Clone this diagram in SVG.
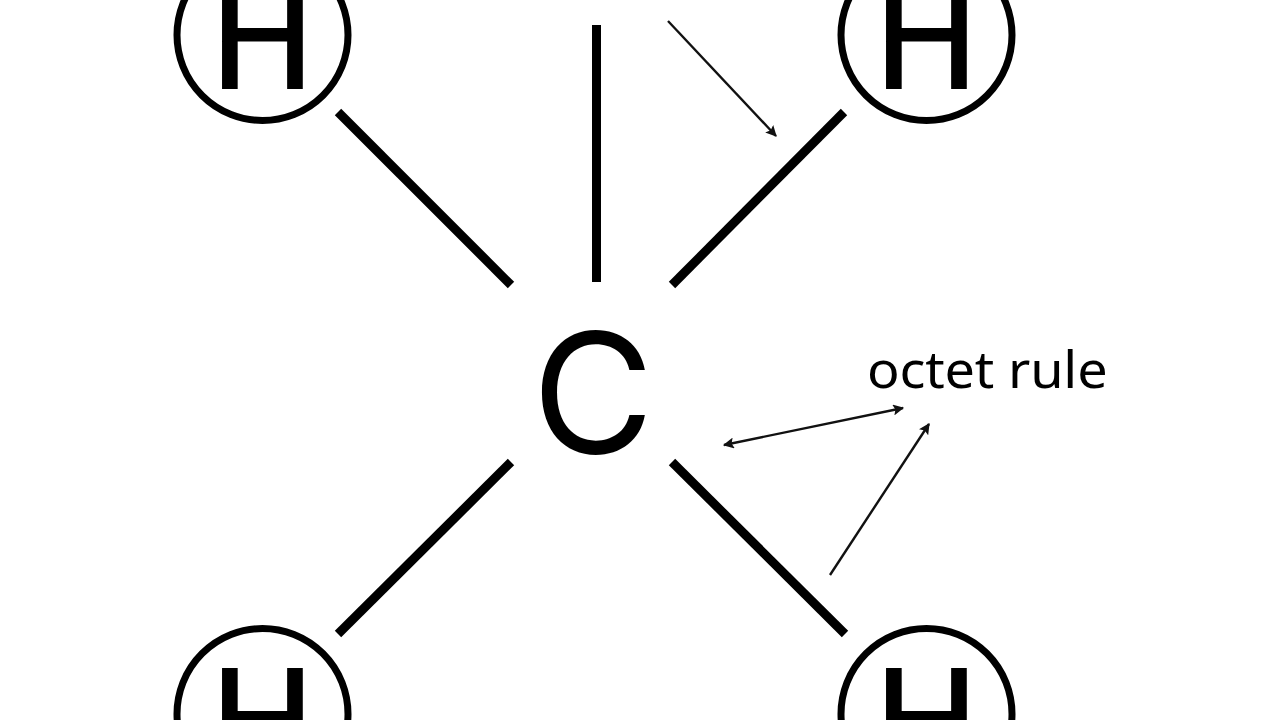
<svg xmlns="http://www.w3.org/2000/svg" width="1280" height="720" viewBox="0 0 1280 720">
<style>
.bond{stroke:#000;stroke-width:9;fill:none}
.atom{stroke:#000;stroke-width:7;fill:#fff}
.h{font-family:"Noto Sans",sans-serif;font-size:145px;font-weight:500;fill:#000;text-anchor:middle}
.thin{stroke:#111;stroke-width:2.4;fill:none}
</style>
<defs>
<marker id="a" viewBox="0 0 10 10" refX="9" refY="5" markerWidth="4.600" markerHeight="4.600" orient="auto-start-reverse"><path d="M0,0L10,5L0,10L2,5Z" fill="#111"/></marker>
</defs>
<rect width="1280" height="720" fill="#fff"/>
<g id="connectors">
<line class="bond" x1="338" y1="112" x2="511" y2="285"/>
<line class="bond" x1="596.500" y1="25" x2="596.500" y2="282"/>
<line class="bond" x1="844" y1="112" x2="672" y2="285"/>
<line class="bond" x1="511" y1="462" x2="338" y2="634"/>
<line class="bond" x1="672" y1="462" x2="845" y2="634"/>
<line class="thin" x1="668" y1="21" x2="776" y2="136" marker-end="url(#a)"/>
<line class="thin" x1="724" y1="445" x2="903" y2="408" marker-start="url(#a)" marker-end="url(#a)"/>
<line class="thin" x1="830" y1="575" x2="929" y2="424" marker-end="url(#a)"/>
</g>
<g id="h1"><circle class="atom" cx="262.500" cy="35" r="85.500"/><text class="h" x="262.500" y="89">H</text></g>
<g id="h2"><circle class="atom" cx="926.500" cy="35" r="85.500"/><text class="h" x="926.500" y="89">H</text></g>
<g id="h3"><circle class="atom" cx="262.500" cy="714" r="85.500"/><text class="h" x="262.500" y="772">H</text></g>
<g id="h4"><circle class="atom" cx="926.500" cy="714" r="85.500"/><text class="h" x="926.500" y="772">H</text></g>
<g id="c"><text x="593" y="453" font-family="Inter,Noto Sans,sans-serif" font-size="167" text-anchor="middle" fill="#000">C</text></g>
<g id="label"><text transform="translate(867 388) scale(1.06 1)" font-family="Noto Sans,sans-serif" font-size="51" textLength="227" lengthAdjust="spacing" fill="#000">octet rule</text></g>
</svg>
